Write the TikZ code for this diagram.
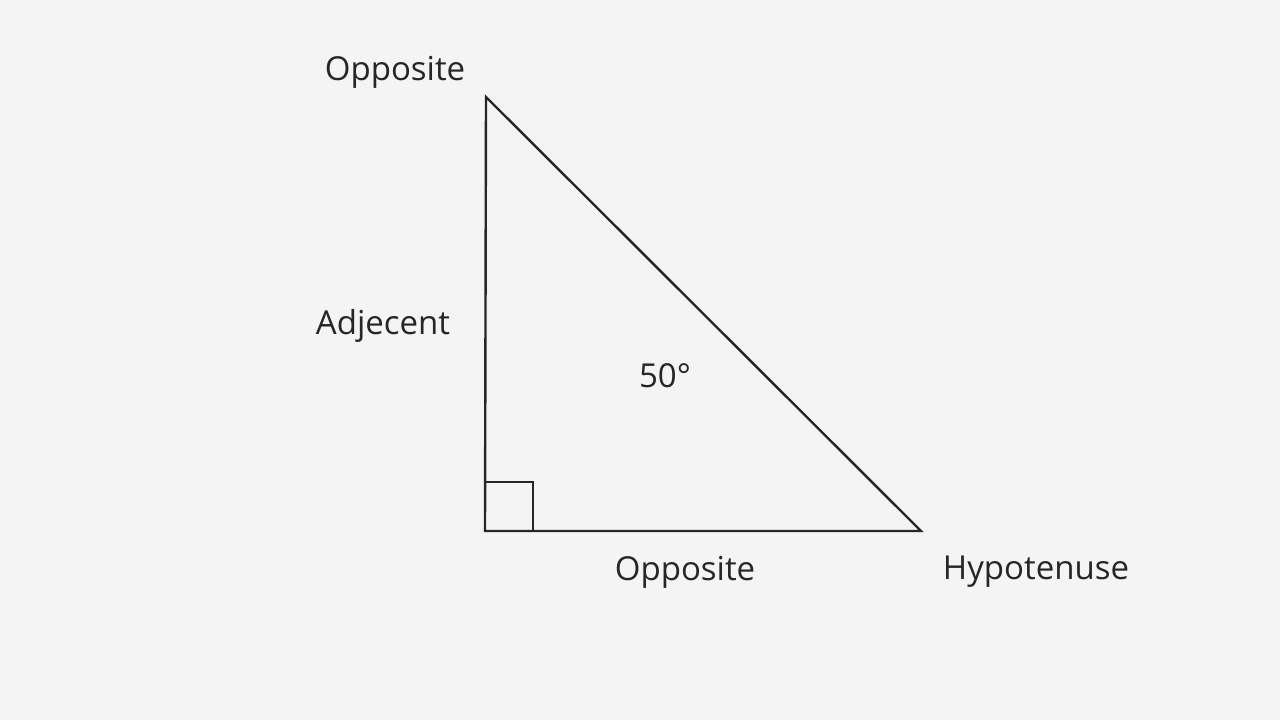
\documentclass[tikz,border=0pt]{standalone}
\usepackage{fontspec}
\setmainfont{Open Sans}
\definecolor{bg}{HTML}{F4F4F4}
\definecolor{ink}{HTML}{262626}
\begin{document}
\begin{tikzpicture}[x=1pt,y=-1pt,
  lbl/.style={font=\fontsize{33}{38}\selectfont, text=ink, inner sep=0pt},
  edge/.style={draw=ink, line width=2.4pt, line join=miter}]
\fill[bg] (0,0) rectangle (1280,720);
\useasboundingbox (0,0) rectangle (1280,720);
\coordinate (A) at (486,97);
\coordinate (B) at (485,531);
\coordinate (C) at (921,531);
\draw[edge] (A) -- (B) -- (C) -- cycle;
\draw[draw=ink, line width=2pt] (485,482) -- (533,482) -- (533,531);
\node[lbl] (t1) at (395,72) {Opposite};
\node[lbl] (t2) at (383,326) {Adjecent};
\node[lbl] (t3) at (665,376) {50°};
\node[lbl] (t4) at (685,572) {Opposite};
\node[lbl] (t5) at (1036,572) {Hypotenuse};
\end{tikzpicture}
\end{document}
